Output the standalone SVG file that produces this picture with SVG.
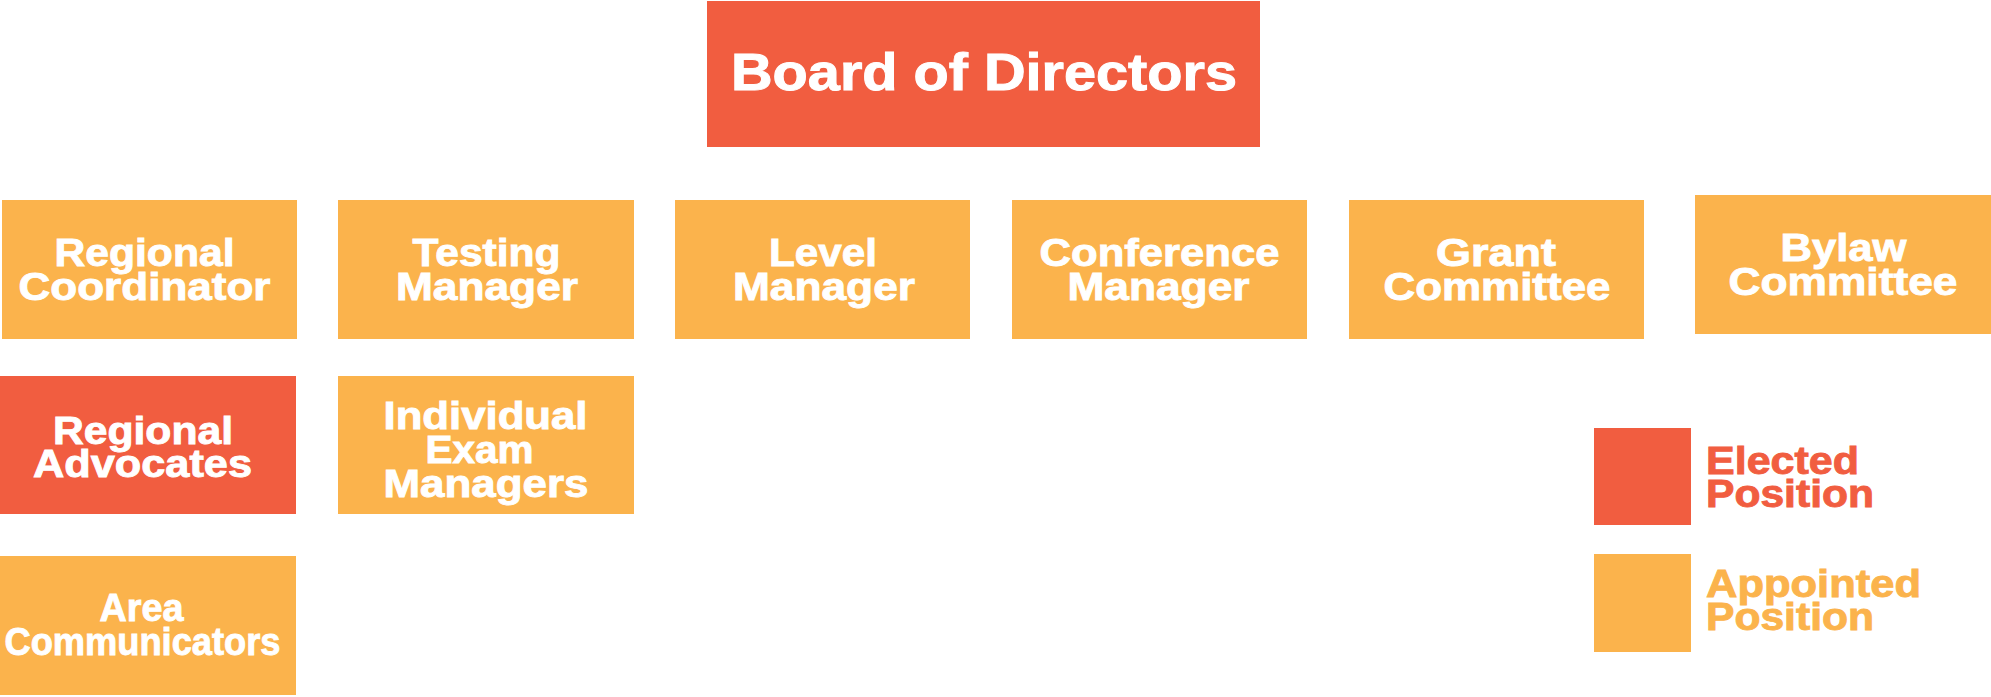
<svg xmlns="http://www.w3.org/2000/svg" width="1991" height="697" viewBox="0 0 1991 697">
<style>
.red{fill:#F15D40}
.org{fill:#FBB34C}
text{font-family:"Liberation Sans",Arial,sans-serif;font-weight:bold}
.lbl{fill:#fff;stroke:#fff;stroke-width:0.9;font-size:38px;text-anchor:middle}
.title{fill:#fff;stroke:#fff;stroke-width:1;font-size:52px;text-anchor:middle}
.leg{font-size:38px;stroke-width:0.9}
.legr{fill:#F15D40;stroke:#F15D40}
.lego{fill:#FBB34C;stroke:#FBB34C}
</style>
<rect width="1991" height="697" fill="#fff"/>
<g id="connectors"/>
<g id="board">
<rect class="red" x="707" y="1" width="553" height="146"/>
<text class="title" x="984" y="90" textLength="506" lengthAdjust="spacingAndGlyphs">Board of Directors</text>
</g>
<g id="regional-coordinator">
<rect class="org" x="2" y="200" width="295" height="139"/>
<text class="lbl" x="144.5" y="266" textLength="180" lengthAdjust="spacingAndGlyphs">Regional</text>
<text class="lbl" x="144.5" y="300" textLength="252" lengthAdjust="spacingAndGlyphs">Coordinator</text>
</g>
<g id="testing-manager">
<rect class="org" x="338" y="200" width="296" height="139"/>
<text class="lbl" x="486.5" y="266" textLength="148" lengthAdjust="spacingAndGlyphs">Testing</text>
<text class="lbl" x="487" y="300" textLength="182" lengthAdjust="spacingAndGlyphs">Manager</text>
</g>
<g id="level-manager">
<rect class="org" x="675" y="200" width="295" height="139"/>
<text class="lbl" x="823" y="266" textLength="108" lengthAdjust="spacingAndGlyphs">Level</text>
<text class="lbl" x="824" y="300" textLength="182" lengthAdjust="spacingAndGlyphs">Manager</text>
</g>
<g id="conference-manager">
<rect class="org" x="1012" y="200" width="295" height="139"/>
<text class="lbl" x="1159.5" y="266" textLength="240" lengthAdjust="spacingAndGlyphs">Conference</text>
<text class="lbl" x="1158.5" y="300" textLength="182" lengthAdjust="spacingAndGlyphs">Manager</text>
</g>
<g id="grant-committee">
<rect class="org" x="1349" y="200" width="295" height="139"/>
<text class="lbl" x="1496" y="266" textLength="120" lengthAdjust="spacingAndGlyphs">Grant</text>
<text class="lbl" x="1497" y="300" textLength="227" lengthAdjust="spacingAndGlyphs">Committee</text>
</g>
<g id="bylaw-committee">
<rect class="org" x="1695" y="195" width="296" height="139"/>
<text class="lbl" x="1843.5" y="261" textLength="126" lengthAdjust="spacingAndGlyphs">Bylaw</text>
<text class="lbl" x="1843" y="295" textLength="229" lengthAdjust="spacingAndGlyphs">Committee</text>
</g>
<g id="regional-advocates">
<rect class="red" x="0" y="376" width="296" height="138"/>
<text class="lbl" x="143" y="444" textLength="180" lengthAdjust="spacingAndGlyphs">Regional</text>
<text class="lbl" x="142.5" y="477" textLength="219" lengthAdjust="spacingAndGlyphs">Advocates</text>
</g>
<g id="individual-exam-managers">
<rect class="org" x="338" y="376" width="296" height="138"/>
<text class="lbl" x="485.5" y="429" textLength="204" lengthAdjust="spacingAndGlyphs">Individual</text>
<text class="lbl" x="479.5" y="463" textLength="108" lengthAdjust="spacingAndGlyphs">Exam</text>
<text class="lbl" x="486" y="497" textLength="205" lengthAdjust="spacingAndGlyphs">Managers</text>
</g>
<g id="area-communicators">
<rect class="org" x="0" y="556" width="296" height="139"/>
<text class="lbl" x="141.5" y="621" textLength="84" lengthAdjust="spacingAndGlyphs">Area</text>
<text class="lbl" x="142.5" y="655" textLength="276" lengthAdjust="spacingAndGlyphs">Communicators</text>
</g>
<g id="legend-elected">
<rect class="red" x="1594" y="428" width="97" height="97"/>
<text class="leg legr" x="1706" y="474" textLength="153" lengthAdjust="spacingAndGlyphs">Elected</text>
<text class="leg legr" x="1706" y="507" textLength="168" lengthAdjust="spacingAndGlyphs">Position</text>
</g>
<g id="legend-appointed">
<rect class="org" x="1594" y="554" width="97" height="98"/>
<text class="leg lego" x="1706" y="597" textLength="215" lengthAdjust="spacingAndGlyphs">Appointed</text>
<text class="leg lego" x="1706" y="630" textLength="168" lengthAdjust="spacingAndGlyphs">Position</text>
</g>
</svg>
